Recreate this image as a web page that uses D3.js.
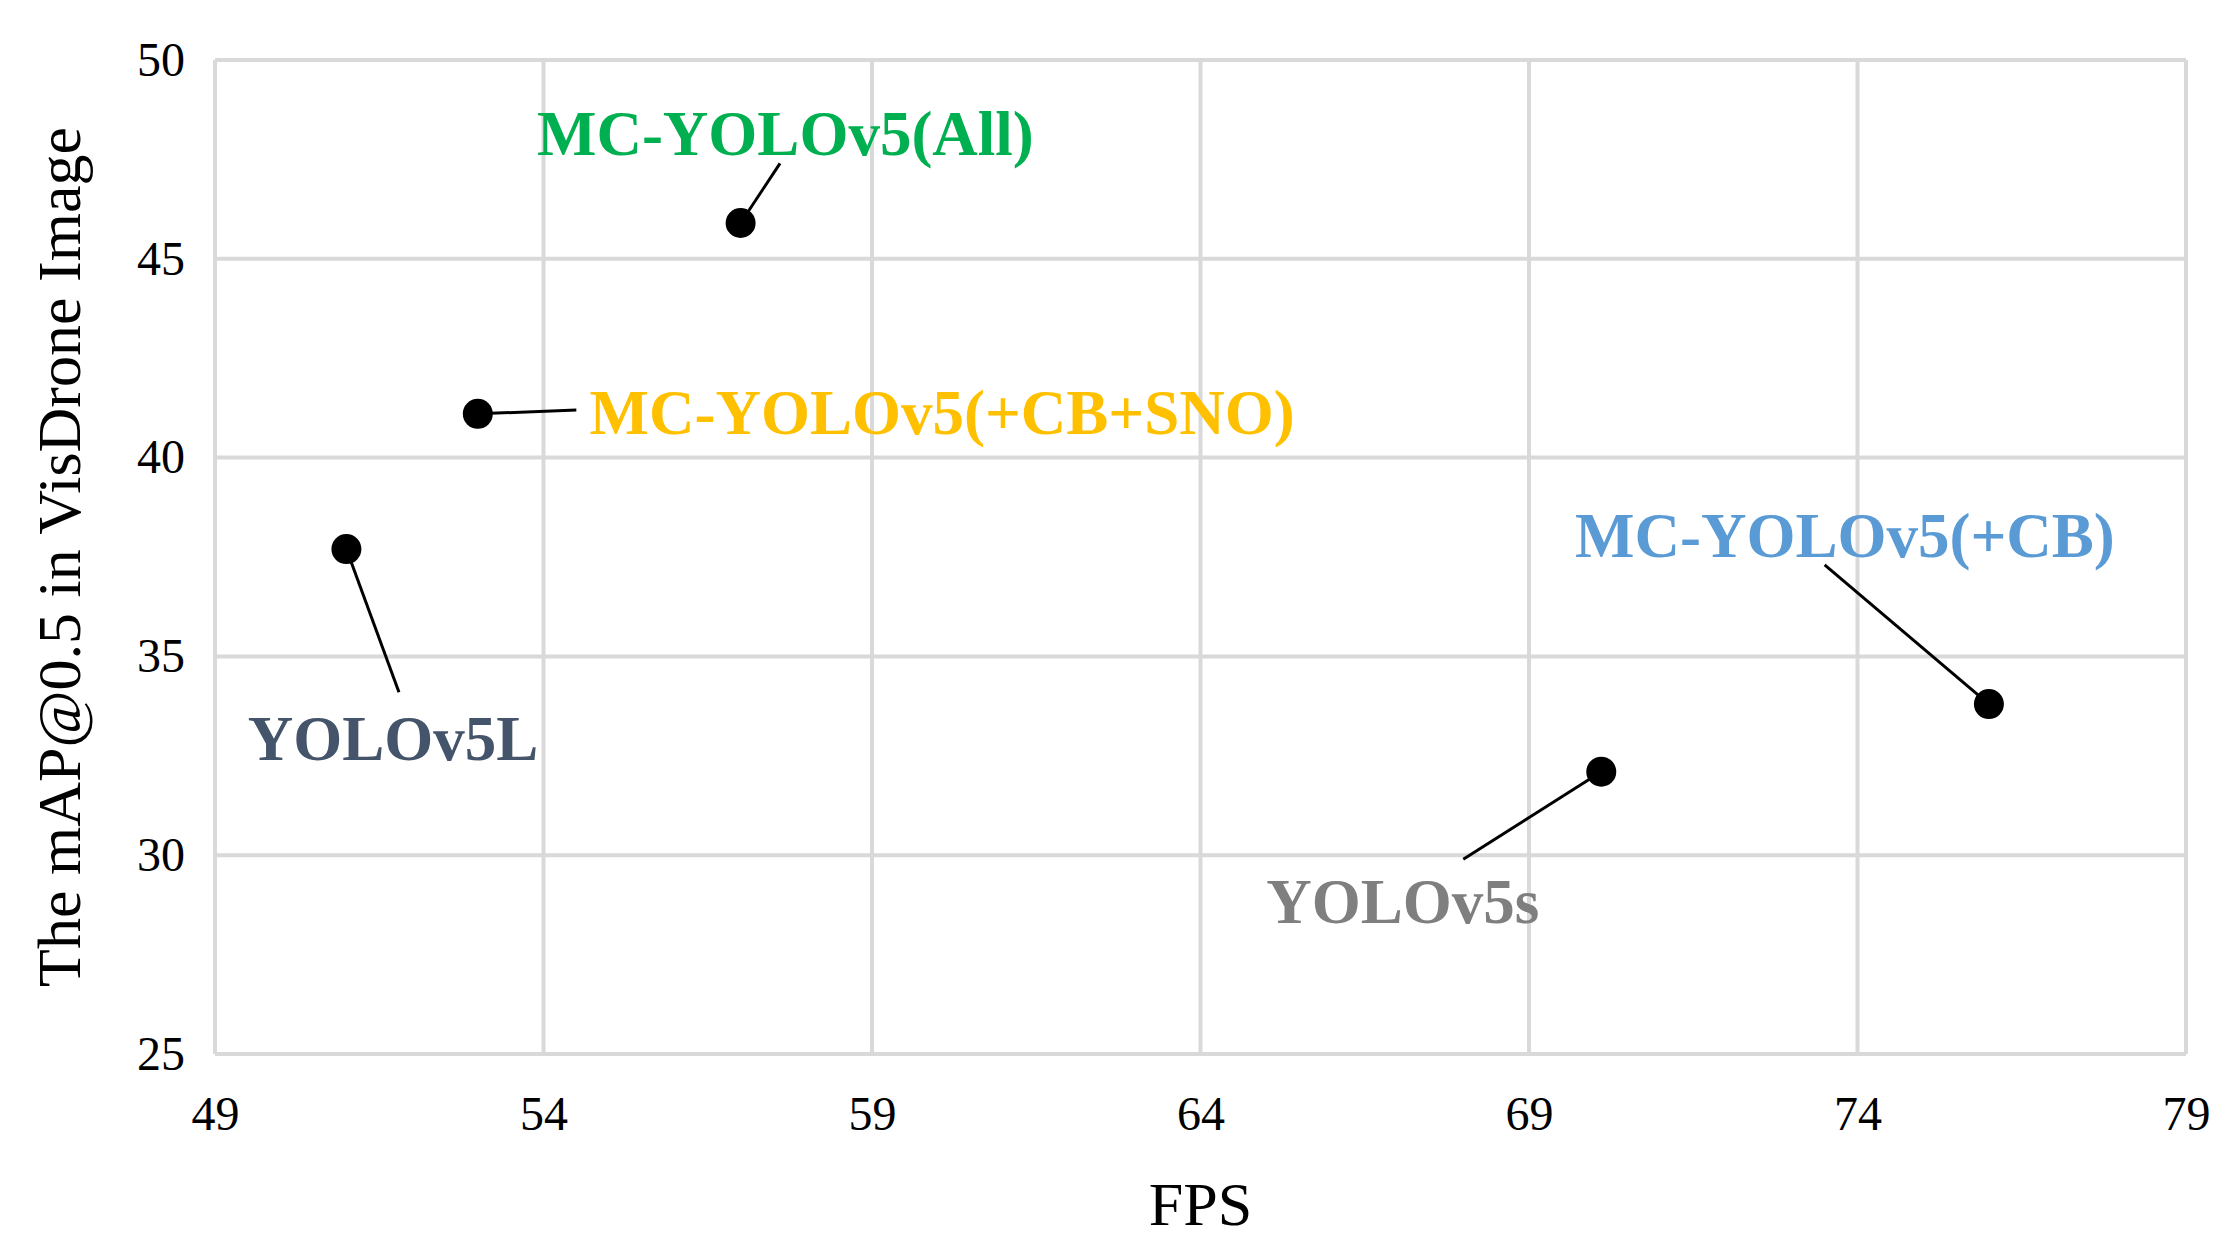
<!DOCTYPE html>
<html>
<head>
<meta charset="utf-8">
<script src="https://cdn.jsdelivr.net/npm/d3@7"></script>
<style>
  body { margin: 0; background: #fff; }
  text { font-family: 'Liberation Serif', 'Times New Roman', serif; }
</style>
</head>
<body>
<div id="chart"></div>
<script>
var models = ['MC-YOLOv5(All)', 'MC-YOLOv5(+CB+SNO)', 'YOLOv5L', 'MC-YOLOv5(+CB)', 'YOLOv5s'];
var fps = [57, 53, 51, 76, 70.1];
var map50 = [45.9, 41.1, 37.7, 33.8, 32.1];
var labelColors = ['#00B050', '#FFC000', '#44546A', '#5B9BD5', '#7F7F7F'];
var xTicks = [49, 54, 59, 64, 69, 74, 79];
var yTicks = [25, 30, 35, 40, 45, 50];
// label anchor positions in data units: [text x, text baseline y, leader end x, leader end y]
var labelPos = [
  [53.9, 47.6, 57.6, 47.4],
  [54.7, 40.6, 54.5, 41.2],
  [49.5, 32.4, 51.8, 34.1],
  [69.7, 37.5, 73.5, 37.3],
  [65.0, 28.3, 68.0, 29.9]
];

var width = 2239, height = 1253;
var margin = { top: 60, right: 53, bottom: 199, left: 215 };
var graphWidth = width - margin.left - margin.right;
var graphHeight = height - margin.top - margin.bottom;

var svg = d3.select('#chart').append('svg')
  .attr('width', width).attr('height', height);
var graph = svg.append('g')
  .attr('transform', 'translate(' + margin.left + ',' + margin.top + ')');

var x = d3.scaleLinear().domain([49, 79]).range([0, graphWidth]);
var y = d3.scaleLinear().domain([25, 50]).range([graphHeight, 0]);

// grid
graph.append('g').selectAll('line').data(xTicks).enter().append('line')
  .attr('x1', d => x(d)).attr('x2', d => x(d))
  .attr('y1', 0).attr('y2', graphHeight)
  .attr('stroke', '#d9d9d9').attr('stroke-width', 4);
graph.append('g').selectAll('line').data(yTicks).enter().append('line')
  .attr('x1', 0).attr('x2', graphWidth)
  .attr('y1', d => y(d)).attr('y2', d => y(d))
  .attr('stroke', '#d9d9d9').attr('stroke-width', 4);

// axes
var xAxis = d3.axisBottom(x).tickValues(xTicks).tickSize(0).tickPadding(42);
var yAxis = d3.axisLeft(y).tickValues(yTicks).tickSize(0).tickPadding(30);
graph.append('g').attr('transform', 'translate(0,' + graphHeight + ')').call(xAxis)
  .call(g => g.select('.domain').remove())
  .selectAll('text').style('font-size', '48px').attr('fill', '#000');
graph.append('g').call(yAxis)
  .call(g => g.select('.domain').remove())
  .selectAll('text').style('font-size', '48px').attr('fill', '#000');

svg.append('text')
  .attr('x', margin.left + graphWidth / 2).attr('y', 1225)
  .attr('text-anchor', 'middle').style('font-size', '62px').text('FPS');
svg.append('text')
  .attr('transform', 'translate(80,' + (margin.top + graphHeight / 2) + ') rotate(-90)')
  .attr('text-anchor', 'middle').style('font-size', '62px')
  .text('The mAP@0.5 in VisDrone Image');

// leader lines
graph.selectAll('.leader').data(models).enter().append('line')
  .attr('x1', (d, i) => x(fps[i])).attr('y1', (d, i) => y(map50[i]))
  .attr('x2', (d, i) => x(labelPos[i][2])).attr('y2', (d, i) => y(labelPos[i][3]))
  .attr('stroke', '#000').attr('stroke-width', 3);

// points
graph.selectAll('circle').data(models).enter().append('circle')
  .attr('cx', (d, i) => x(fps[i])).attr('cy', (d, i) => y(map50[i]))
  .attr('r', 15).attr('fill', '#000');

// labels
graph.selectAll('.lbl').data(models).enter().append('text')
  .attr('x', (d, i) => x(labelPos[i][0])).attr('y', (d, i) => y(labelPos[i][1]))
  .style('font-size', '63px').style('font-weight', 'bold')
  .attr('fill', (d, i) => labelColors[i])
  .text(d => d);
</script>
</body>
</html>
